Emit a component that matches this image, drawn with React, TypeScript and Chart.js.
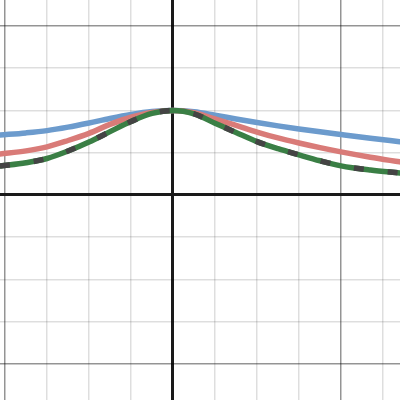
import { useEffect, useRef } from 'react';
import { Chart, registerables } from 'chart.js';

Chart.register(...registerables);

// x positions where the curves were read
const xValues = [-2.06, -1.75, -1.5, -1.25, -1, -0.75, -0.5, -0.25, 0, 0.25, 0.5, 0.75, 1, 1.25, 1.5, 1.75, 2, 2.35, 2.7];

const blueValues = [0.71, 0.735, 0.762, 0.803, 0.852, 0.905, 0.952, 0.987, 1, 0.986, 0.945, 0.9, 0.857, 0.818, 0.782, 0.748, 0.716, 0.672, 0.63];
const redValues = [0.485, 0.522, 0.57, 0.645, 0.73, 0.835, 0.92, 0.978, 1, 0.974, 0.9, 0.825, 0.745, 0.675, 0.615, 0.56, 0.51, 0.447, 0.392];
const greenValues = [0.343, 0.382, 0.432, 0.52, 0.627, 0.75, 0.87, 0.965, 1, 0.96, 0.85, 0.74, 0.632, 0.548, 0.475, 0.405, 0.345, 0.295, 0.26];
// black dashed curve sits on the green one
const dashedValues = [0.343, 0.382, 0.432, 0.52, 0.627, 0.75, 0.87, 0.965, 1, 0.96, 0.85, 0.74, 0.632, 0.548, 0.475, 0.405, 0.345, 0.295, 0.26];

const xGrid = [-2, -1.5, -1, -0.5, 0, 0.5, 1, 1.5, 2, 2.5];
const yGrid = [-2, -1.5, -1, -0.5, 0, 0.5, 1, 1.5, 2];

const X_MIN = -173 / 84;
const X_MAX = 227 / 84;
const Y_MIN = -205 / 84.5;
const Y_MAX = 195 / 84.5;

const toPoints = (ys: number[]) => xValues.map((x, i) => ({ x, y: ys[i] }));

const gridColor = (v: number) => {
  if (v === 0) return '#1a1a1a';
  if (Math.abs(v) % 2 === 0) return 'rgba(0,0,0,0.42)';
  return 'rgba(0,0,0,0.13)';
};
const gridWidth = (v: number) => (v === 0 ? 3 : 1.5);

export default function App() {
  const canvasRef = useRef<HTMLCanvasElement>(null);
  const chartRef = useRef<Chart | null>(null);

  useEffect(() => {
    if (!canvasRef.current) return;
    if (chartRef.current) chartRef.current.destroy();

    const line = (data: number[], color: string, order: number, dash?: number[]) => ({
      data: toPoints(data),
      borderColor: color,
      borderWidth: 5.5,
      borderDash: dash || [],
      borderCapStyle: 'round' as const,
      pointRadius: 0,
      cubicInterpolationMode: 'monotone' as const,
      fill: false,
      order,
    });

    chartRef.current = new Chart(canvasRef.current, {
      type: 'line',
      data: {
        datasets: [
          { ...line(dashedValues, '#444444', 0, [10, 24]), borderCapStyle: 'butt' as const },
          line(greenValues, '#3a7f45', 1),
          line(redValues, '#d97b78', 2),
          line(blueValues, '#6c9bcd', 3),
        ],
      },
      options: {
        animation: false,
        responsive: true,
        maintainAspectRatio: false,
        layout: { padding: 0 },
        plugins: { legend: { display: false }, tooltip: { enabled: false } },
        scales: {
          x: {
            type: 'linear',
            bounds: 'data',
            min: X_MIN,
            max: X_MAX,
            afterBuildTicks: (scale) => {
              scale.ticks = xGrid.map((value) => ({ value }));
            },
            ticks: { display: false },
            border: { display: false },
            grid: {
              drawTicks: false,
              color: (ctx) => gridColor(ctx.tick.value),
              lineWidth: (ctx) => gridWidth(ctx.tick.value),
            },
          },
          y: {
            type: 'linear',
            bounds: 'data',
            min: Y_MIN,
            max: Y_MAX,
            afterBuildTicks: (scale) => {
              scale.ticks = yGrid.map((value) => ({ value }));
            },
            ticks: { display: false },
            border: { display: false },
            grid: {
              drawTicks: false,
              color: (ctx) => gridColor(ctx.tick.value),
              lineWidth: (ctx) => gridWidth(ctx.tick.value),
            },
          },
        },
      },
    });

    return () => {
      if (chartRef.current) {
        chartRef.current.destroy();
        chartRef.current = null;
      }
    };
  }, []);

  return (
    <div style={{ position: 'absolute', left: 0, top: 0, width: 400, height: 400, background: '#fff' }}>
      <canvas ref={canvasRef} />
    </div>
  );
}
